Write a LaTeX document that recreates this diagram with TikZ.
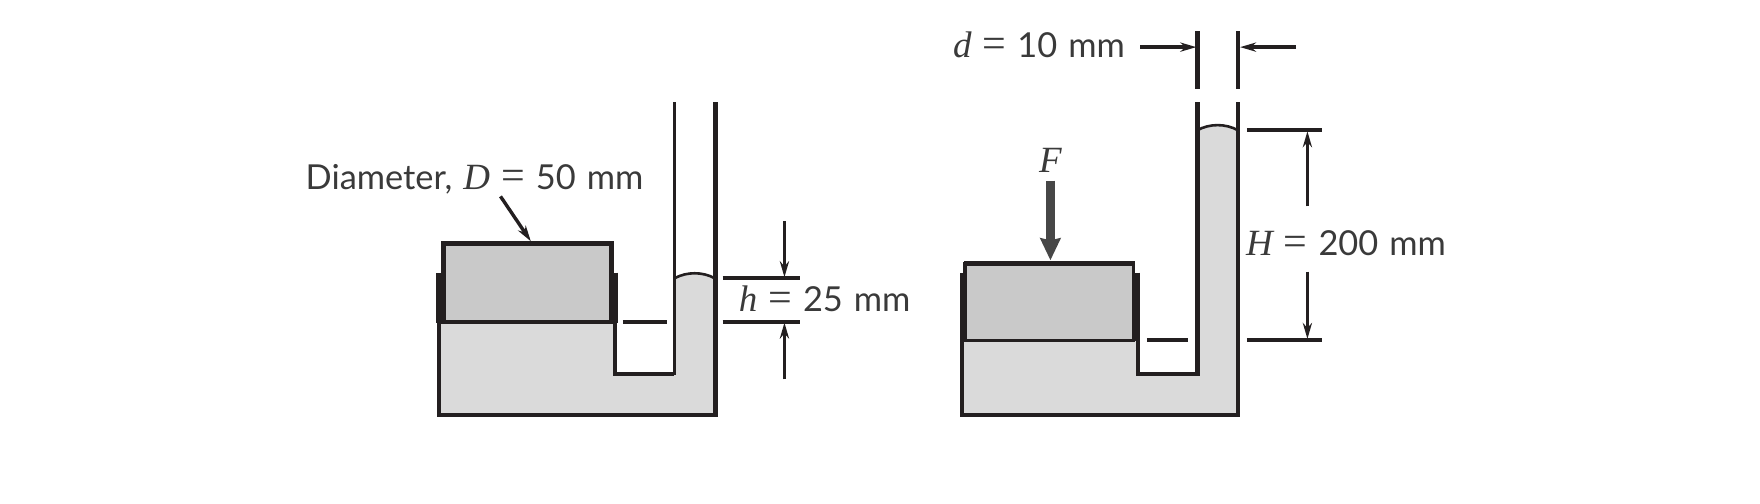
\documentclass[tikz,border=0pt]{standalone}
\usepackage{fontspec}
\setmainfont{Lato}[WordSpace=1.25]
\newfontfamily\ital{Liberation Serif}[ItalicFont=Liberation Serif Italic]
\usetikzlibrary{arrows.meta}
\definecolor{fluid}{HTML}{DADADA}
\definecolor{pistonfill}{HTML}{C9C9C9}
\definecolor{inkc}{HTML}{231F20}
\definecolor{txt}{HTML}{3A3A3A}
\newcommand{\iv}[1]{{\fontsize{18.5pt}{18pt}\ital\itshape #1}}
\newcommand{\eqs}{{\fontsize{21pt}{18pt}\ital =}}
\tikzset{
  wall/.style={draw=inkc,line width=2.1pt,line join=miter},
  tubewall/.style={draw=inkc,line width=1.7pt},
  thickwall/.style={draw=inkc,line width=3.9pt},
  piston/.style={draw=inkc,fill=pistonfill,line width=2.3pt},
  refline/.style={draw=inkc,line width=2.1pt},
  dimarrow/.style={draw=inkc,line width=1.4pt,-{Stealth[length=8pt,width=4.6pt]}},
  forcearrow/.style={draw=black!72,line width=4.4pt,-{Stealth[length=11pt,width=10pt,inset=1pt]}},
  lbl/.style={inner sep=0pt,anchor=base west,text=txt,font=\fontsize{17.2pt}{18pt}\selectfont},
}
\begin{document}
\begin{tikzpicture}[x=0.5612pt,y=-0.5612pt]
\useasboundingbox (0,0) rectangle (1568.3,449.1);
% LEFT unit
\path[fill=fluid] (391,287) -- (547,287) -- (547,333) -- (601,333) -- (601,248) .. controls (612,242) and (626,242) .. (637,248) -- (637,370) -- (391,370) -- cycle;
\draw[piston] (395,217) rectangle (545,287);
\draw[thickwall] (392,243) -- (392,288);
\draw[thickwall] (547,243) -- (547,288);
\draw[wall] (391,285) -- (391,370) -- (637.5,370) -- (637.5,91);
\draw[wall] (548,285) -- (548,333) -- (601,333);
\draw[tubewall] (601,334) -- (601,91);
\draw[draw=inkc,line width=1.3pt] (601,248) .. controls (612,242) and (626,242) .. (637,248);
\coordinate (L1) at (555,287); \coordinate (L2) at (594,287);
\coordinate (h1a) at (644,247.5); \coordinate (h1b) at (713,247.5);
\coordinate (h2a) at (644,287); \coordinate (h2b) at (713,287);
\draw[refline] (L1) -- (L2);
\draw[refline] (h1a) -- (h1b);
\draw[refline] (h2a) -- (h2b);
\coordinate (ha1) at (699,197); \coordinate (ha2) at (699,247);
\coordinate (ha3) at (699,338); \coordinate (ha4) at (699,287.5);
\draw[dimarrow] (ha1) -- (ha2);
\draw[dimarrow] (ha3) -- (ha4);
\node[lbl] (hlabel) at (658,278) {\iv{h} \eqs{} 25 mm};
\node[lbl] (dialabel) at (272,169) {Diameter, \iv{D} \eqs{} 50 mm};
\coordinate (da1) at (446,175); \coordinate (da2) at (473,215);
\draw[dimarrow,line width=1.7pt] (da1) -- (da2);
% RIGHT unit
\path[fill=fluid] (857,303) -- (1013,303) -- (1013,333) -- (1067,333) -- (1067,116) .. controls (1078,110) and (1092,110) .. (1103,116) -- (1103,370) -- (857,370) -- cycle;
\draw[piston,line width=1.7pt] (860,235) rectangle (1010,303.5);
\draw[draw=inkc,line width=2.3pt] (859,235) -- (1011,235);
\draw[thickwall] (858.5,243) -- (858.5,304);
\draw[thickwall] (1012,243) -- (1012,304);
\draw[wall] (857,301) -- (857,370) -- (1103,370) -- (1103,91);
\draw[wall] (1014,301) -- (1014,333) -- (1067,333) -- (1067,91);
\draw[wall] (1067,28) -- (1067,79);
\draw[wall] (1103,28) -- (1103,79);
\draw[draw=inkc,line width=1.3pt] (1067,116) .. controls (1078,110) and (1092,110) .. (1103,116);
\coordinate (R1) at (1022,303); \coordinate (R2) at (1059,303);
\coordinate (H1a) at (1111,116); \coordinate (H1b) at (1178,116);
\coordinate (H2a) at (1111,303); \coordinate (H2b) at (1178,303);
\draw[refline,line width=1.6pt] (R1) -- (R2);
\draw[refline] (H1a) -- (H1b);
\draw[refline] (H2a) -- (H2b);
\coordinate (Ha1) at (1165,184); \coordinate (Ha2) at (1165,117);
\coordinate (Ha3) at (1165,242); \coordinate (Ha4) at (1165,302);
\draw[dimarrow] (Ha1) -- (Ha2);
\draw[dimarrow] (Ha3) -- (Ha4);
\node[lbl] (Hlabel) at (1110,228) {\iv{H} \eqs{} 200 mm};
\node[lbl] (dlabel) at (849,51) {\iv{d} \eqs{} 10 mm};
\coordinate (d1) at (1016,42); \coordinate (d2) at (1066,42);
\coordinate (d3) at (1155,42); \coordinate (d4) at (1105,42);
\draw[dimarrow,line width=1.7pt] (d1) -- (d2);
\draw[dimarrow,line width=1.7pt] (d3) -- (d4);
\node[lbl,anchor=base] (Flabel) at (936,154) {\iv{F}};
\coordinate (f1) at (936,161); \coordinate (f2) at (936,232);
\draw[forcearrow] (f1) -- (f2);
\end{tikzpicture}
\end{document}
